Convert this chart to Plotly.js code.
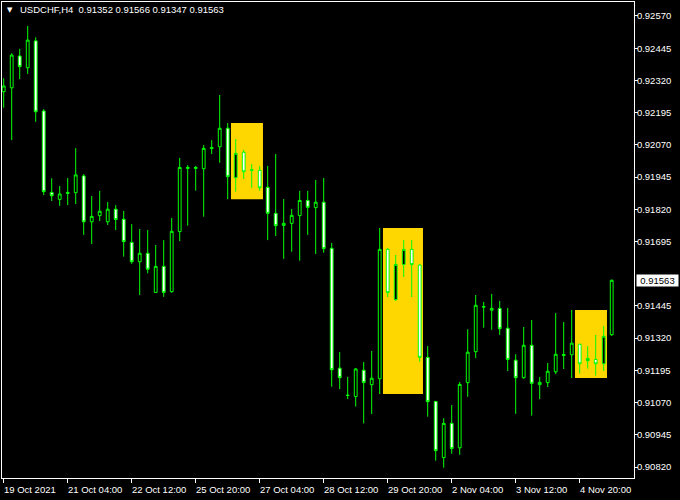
<!DOCTYPE html>
<html><head><meta charset="utf-8">
<script src="https://cdn.plot.ly/plotly-3.0.1.min.js"></script>
<style>html,body{margin:0;padding:0;background:#000;}#chart{width:680px;height:500px;}</style>
</head><body><div id="chart"></div>
<script>
const symbol = "USDCHF,H4";
const opens = [0.92295,0.92310,0.92433,0.92388,0.92492,0.92220,0.91904,0.91877,0.91900,0.91903,
0.91968,0.91790,0.91814,0.91790,0.91839,0.91800,0.91710,0.91635,0.91668,0.91516,
0.91617,0.91519,0.91752,0.91997,0.91997,0.91996,0.92074,0.92081,0.92153,0.91961,
0.92060,0.91993,0.91990,0.91924,0.91823,0.91776,0.91784,0.91814,0.91873,0.91845,
0.91866,0.91687,0.91222,0.91116,0.91112,0.91214,0.91158,0.91181,0.91683,0.91488,
0.91624,0.91683,0.91622,0.91264,0.91093,0.90875,0.91008,0.90913,0.91166,0.91286,
0.91459,0.91447,0.91454,0.91377,0.91253,0.91185,0.91311,0.91158,0.91166,0.91208,
0.91271,0.91274,0.91315,0.91251,0.91256,0.91239,0.91352];
const highs = [0.92347,0.92444,0.92461,0.92550,0.92506,0.92227,0.91959,0.91929,0.91960,0.92076,
0.91975,0.91890,0.91910,0.91867,0.91855,0.91832,0.91781,0.91762,0.91758,0.91700,
0.91719,0.91805,0.92038,0.92010,0.92007,0.92088,0.92107,0.92282,0.92173,0.92111,
0.92069,0.92014,0.92007,0.92007,0.92053,0.91878,0.91840,0.91910,0.91910,0.91952,
0.91960,0.91708,0.91285,0.91188,0.91223,0.91246,0.91289,0.91766,0.91688,0.91661,
0.91719,0.91719,0.91627,0.91308,0.91095,0.91028,0.91079,0.91168,0.91373,0.91506,
0.91479,0.91510,0.91483,0.91456,0.91276,0.91382,0.91409,0.91188,0.91242,0.91436,
0.91401,0.91448,0.91316,0.91308,0.91351,0.91386,0.91566];
const lows = [0.92233,0.92107,0.92344,0.92364,0.92178,0.91894,0.91871,0.91852,0.91855,0.91859,
0.91739,0.91704,0.91793,0.91778,0.91758,0.91655,0.91627,0.91506,0.91590,0.91514,
0.91499,0.91515,0.91715,0.91775,0.91911,0.91810,0.92053,0.92019,0.91878,0.91907,
0.91956,0.91922,0.91910,0.91719,0.91735,0.91646,0.91674,0.91639,0.91739,0.91665,
0.91670,0.91150,0.91141,0.91102,0.91073,0.91008,0.91044,0.91122,0.91498,0.91483,
0.91576,0.91498,0.91247,0.91034,0.90863,0.90836,0.90890,0.90886,0.91111,0.91261,
0.91379,0.91371,0.91351,0.91211,0.91045,0.91181,0.91038,0.91102,0.91149,0.91199,
0.91219,0.91184,0.91201,0.91220,0.91193,0.91211,0.91347];
const closes = [0.92317,0.92437,0.92392,0.92495,0.92217,0.91907,0.91891,0.91898,0.91904,0.91972,
0.91790,0.91811,0.91831,0.91839,0.91799,0.91713,0.91635,0.91668,0.91606,0.91617,
0.91516,0.91753,0.92001,0.92001,0.92001,0.92075,0.92078,0.92153,0.91965,0.92056,
0.91984,0.91989,0.91922,0.91823,0.91775,0.91784,0.91815,0.91873,0.91846,0.91866,
0.91686,0.91216,0.91185,0.91117,0.91219,0.91166,0.91183,0.91683,0.91515,0.91625,
0.91683,0.91624,0.91264,0.91092,0.90902,0.91008,0.90910,0.91159,0.91284,0.91466,
0.91461,0.91454,0.91375,0.91256,0.91185,0.91311,0.91163,0.91167,0.91210,0.91276,
0.91275,0.91319,0.91239,0.91260,0.91239,0.91346,0.91563];
const priceTickLabels = ["0.92570","0.92445","0.92320","0.92195","0.92070","0.91945","0.91820","0.91695","0.91445","0.91320","0.91195","0.91070","0.90945","0.90820"];
const timeTickLabels = ["19 Oct 2021","21 Oct 04:00","22 Oct 12:00","25 Oct 20:00","27 Oct 04:00","28 Oct 12:00","29 Oct 20:00","2 Nov 04:00","3 Nov 12:00","4 Nov 20:00"];
const motherBars = [28, 47, 71];
const insideCounts = [4, 5, 4];

const FONT = "'Liberation Sans',Arial,sans-serif";
const FS = 9.5;
const LIME = '#00ff00';
const labelShift = 0.000186;
const barsPerTimeLabel = 8;
const xIdx = opens.map((_, i) => i);
const last = opens.length - 1;
const timeTickVals = timeTickLabels.map((_, i) => i * barsPerTimeLabel - 0.03);

const shapes = motherBars.map((m, i) => ({
  type: 'rect', xref: 'x', yref: 'y', layer: 'below',
  x0: m + 0.41, x1: m + insideCounts[i] + 0.41,
  y0: lows[m], y1: highs[m],
  fillcolor: '#FFD700', line: {width: 0}
}));

const header = symbol + '\u00a0\u00a0' + [opens[last], highs[last], lows[last], closes[last]].map(v => v.toFixed(5)).join('\u00a0');

const trace = {
  type: 'candlestick', x: xIdx, open: opens, high: highs, low: lows, close: closes,
  increasing: {line: {color: LIME, width: 1}, fillcolor: '#000000'},
  decreasing: {line: {color: LIME, width: 1}, fillcolor: '#ffffff'},
  whiskerwidth: 0, hoverinfo: 'skip'
};

const timeAnnotations = timeTickLabels.map((t, i) => ({
  xref: 'x', yref: 'paper', x: timeTickVals[i], y: 0, xanchor: 'left', yanchor: 'middle',
  yshift: -11, xshift: -1, text: t, showarrow: false,
  font: {family: FONT, size: FS, color: '#fff'}
}));

const layout = {
  width: 680, height: 500,
  margin: {l: 2, r: 46, t: 2, b: 22},
  paper_bgcolor: '#000', plot_bgcolor: '#000',
  showlegend: false, boxgap: 0.5,
  font: {family: FONT, size: FS, color: '#fff'},
  xaxis: {
    range: [-0.2125, 78.7875], showgrid: false, zeroline: false,
    showline: true, linecolor: '#fff', linewidth: 1, mirror: true,
    ticks: 'outside', ticklen: 4, tickcolor: '#fff', tickwidth: 1,
    tickvals: timeTickVals, ticktext: timeTickLabels.map(() => ''),
    rangeslider: {visible: false}, fixedrange: true
  },
  yaxis: {
    side: 'right', range: [0.907959, 0.926429], showgrid: false, zeroline: false,
    showline: true, linecolor: '#fff', linewidth: 1, mirror: true,
    ticks: 'outside', ticklen: 3, tickcolor: '#fff', tickwidth: 1,
    tickvals: priceTickLabels.map(s => parseFloat(s) + labelShift),
    ticktext: priceTickLabels, ticklabelstandoff: -3,
    tickfont: {family: FONT, size: FS, color: '#fff'}, fixedrange: true
  },
  shapes: shapes,
  annotations: [
    {xref: 'paper', yref: 'paper', x: 0.0253, y: 0.9832, xanchor: 'left', yanchor: 'middle',
     text: header, showarrow: false, font: {family: FONT, size: FS, color: '#fff'}},
    {xref: 'paper', yref: 'paper', x: 0.0119, y: 0.983, xanchor: 'center', yanchor: 'middle',
     text: '▼', showarrow: false, font: {family: 'DejaVu Sans', size: 7, color: '#fff'}},
    {xref: 'paper', yref: 'y', x: 1, y: closes[last], xanchor: 'left', yanchor: 'middle', xshift: 2,
     text: closes[last].toFixed(5), showarrow: false, bgcolor: '#fff', borderpad: 0,
     width: 41, height: 11, align: 'center',
     font: {family: FONT, size: FS, color: '#000'}}
  ].concat(timeAnnotations)
};

Plotly.newPlot('chart', [trace], layout, {staticPlot: true, displayModeBar: false});
</script></body></html>
